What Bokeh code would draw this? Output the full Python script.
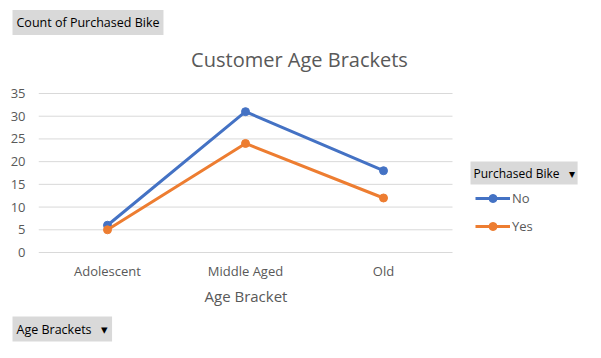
from bokeh.plotting import figure
from bokeh.models import Range1d, Label, Legend, LegendItem, Title, FixedTicker
from bokeh.embed import file_html
from bokeh.resources import INLINE

categories = ["Adolescent", "Middle Aged", "Old"]
no_values = [6, 31, 18]
yes_values = [5, 24, 12]
y_ticks = [0, 5, 10, 15, 20, 25, 30, 35]

FONT = "Open Sans"
GREY = "#595959"
BTN = "#d9d9d9"
W, H = 585, 350
FL, FT, FB = 38, 40, 254          # frame edges (canvas px)
CAT_W = 138.0                     # px per category
Y0_PX, Y35_PX = 252, 93           # where 0 and 35 sit (canvas px)
pxu = (Y0_PX - Y35_PX) / 35.0

x_start = -0.5
x_end = x_start + (W - FL) / CAT_W
y_start = -(FB - Y0_PX) / pxu
y_end = (Y0_PX - FT) / pxu

p = figure(width=W, height=H, x_range=Range1d(x_start, x_end), y_range=Range1d(y_start, y_end),
           output_backend="svg", toolbar_location=None,
           min_border_left=FL, min_border_right=0, min_border_top=FT, min_border_bottom=H - FB)
p.outline_line_color = None
p.background_fill_color = "white"
p.border_fill_color = "white"
p.xgrid.visible = False
p.ygrid.visible = False

xs = list(range(len(categories)))
p.segment(x0=-0.5, x1=len(categories) - 0.5, y0=y_ticks, y1=y_ticks,
          line_color="#d9d9d9", line_width=1)

r_no = p.line(xs, no_values, line_color="#4472C4", line_width=3)
m_no = p.scatter(xs, no_values, size=8, color="#4472C4")
r_yes = p.line(xs, yes_values, line_color="#ED7D31", line_width=3)
m_yes = p.scatter(xs, yes_values, size=8, color="#ED7D31")

p.yaxis.ticker = FixedTicker(ticks=y_ticks)
p.xaxis.ticker = FixedTicker(ticks=xs)
p.xaxis.major_label_overrides = {i: c for i, c in enumerate(categories)}
for ax in (p.xaxis, p.yaxis):
    ax.axis_line_color = None
    ax.major_tick_line_color = None
    ax.minor_tick_line_color = None
    ax.major_tick_out = 0
    ax.major_tick_in = 0
    ax.minor_tick_out = 0
    ax.major_label_text_font = FONT
    ax.major_label_text_font_size = "13px"
    ax.major_label_text_color = GREY
p.yaxis.major_label_standoff = 13
p.xaxis.major_label_standoff = 7


def dx(cx):
    return x_start + (cx - FL) / CAT_W


def dy(cy):
    return (Y0_PX - cy) / pxu


p.add_layout(Label(x=dx(299), y=dy(59), text="Customer Age Brackets", text_align="center",
                   text_baseline="middle", text_font=FONT, text_font_size="20px",
                   text_color=GREY))

p.add_layout(Label(x=dx(470), y=dy(172.5), text="Purchased Bike \u2002\u25BE", text_align="left",
                   text_baseline="middle", text_font=FONT, text_font_size="12px",
                   text_color="black", background_fill_color=BTN, padding=3))

top_btn = Title(text="Count of Purchased Bike", align="left", offset=12 - FL, standoff=11,
                text_font=FONT, text_font_size="12.5px", text_font_style="normal",
                text_color="black", background_fill_color=BTN, padding=4)
p.add_layout(top_btn, "above")

x_title = Title(text="Age Bracket", align="left", offset=204 - FL, standoff=6,
                vertical_align="top",
                text_font=FONT, text_font_size="15px", text_font_style="normal",
                text_color=GREY)
p.add_layout(x_title, "below")

bot_btn = Title(text="Age Brackets \u2002\u25BE", align="left", offset=12 - FL, standoff=12,
                vertical_align="top",
                text_font=FONT, text_font_size="12.5px", text_font_style="normal",
                text_color="black", background_fill_color=BTN, padding=4)
p.add_layout(bot_btn, "below")

legend = Legend(items=[LegendItem(label="No", renderers=[r_no, m_no]),
                       LegendItem(label="Yes", renderers=[r_yes, m_yes])],
                location=(475 - FL, FB - 236), orientation="vertical",
                glyph_width=35, glyph_height=20, spacing=8, label_standoff=2,
                padding=0, margin=0, background_fill_alpha=0, border_line_color=None,
                label_text_font=FONT, label_text_font_size="13px", label_text_color=GREY)
p.add_layout(legend)

open("out.html", "w").write(file_html(p, INLINE))
